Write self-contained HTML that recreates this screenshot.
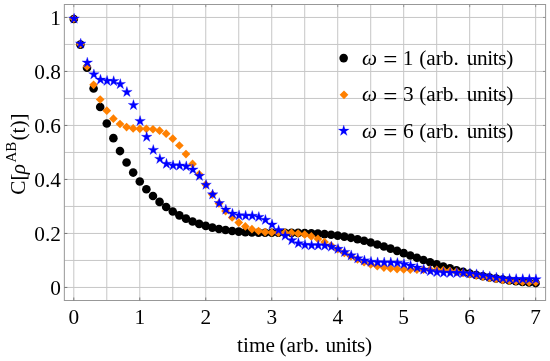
<!DOCTYPE html><html><head><meta charset="utf-8"><title>plot</title><style>html,body{margin:0;padding:0;background:#fff}svg{display:block}</style></head><body><svg width="550" height="361" viewBox="0 0 550 361">
<rect width="550" height="361" fill="#fff"/>
<path d="M73.80 4.5V300.5M106.79 4.5V300.5M139.78 4.5V300.5M172.77 4.5V300.5M205.76 4.5V300.5M238.75 4.5V300.5M271.74 4.5V300.5M304.73 4.5V300.5M337.72 4.5V300.5M370.71 4.5V300.5M403.70 4.5V300.5M436.69 4.5V300.5M469.68 4.5V300.5M502.67 4.5V300.5M535.66 4.5V300.5M64.35 287.45H545.6M64.35 260.45H545.6M64.35 233.45H545.6M64.35 206.45H545.6M64.35 179.45H545.6M64.35 152.45H545.6M64.35 125.45H545.6M64.35 98.45H545.6M64.35 71.45H545.6M64.35 44.45H545.6M64.35 17.45H545.6" stroke="#c6c6c6" stroke-width="1" fill="none"/>
<rect x="64.35" y="4.5" width="481.25" height="296.00" fill="none" stroke="#989898" stroke-width="1"/>
<path d="M73.80 300.5v-3M139.78 300.5v-3M205.76 300.5v-3M271.74 300.5v-3M337.72 300.5v-3M403.70 300.5v-3M469.68 300.5v-3M535.66 300.5v-3M64.35 287.45h3M64.35 233.45h3M64.35 179.45h3M64.35 125.45h3M64.35 71.45h3M64.35 17.45h3" stroke="#787878" stroke-width="1" fill="none"/>
<path d="M73.80 4.5v2.6M139.78 4.5v2.6M205.76 4.5v2.6M271.74 4.5v2.6M337.72 4.5v2.6M403.70 4.5v2.6M469.68 4.5v2.6M535.66 4.5v2.6M545.6 287.45h-2.6M545.6 233.45h-2.6M545.6 179.45h-2.6M545.6 125.45h-2.6M545.6 71.45h-2.6M545.6 17.45h-2.6" stroke="#959595" stroke-width="1" fill="none"/>
<g fill="#000"><circle cx="73.80" cy="18.95" r="4.3"/><circle cx="80.40" cy="44.62" r="4.3"/><circle cx="87.00" cy="67.75" r="4.3"/><circle cx="93.59" cy="88.48" r="4.3"/><circle cx="100.19" cy="107.00" r="4.3"/><circle cx="106.79" cy="123.49" r="4.3"/><circle cx="113.39" cy="138.13" r="4.3"/><circle cx="119.99" cy="151.08" r="4.3"/><circle cx="126.58" cy="162.51" r="4.3"/><circle cx="133.18" cy="172.58" r="4.3"/><circle cx="139.78" cy="181.43" r="4.3"/><circle cx="146.38" cy="189.18" r="4.3"/><circle cx="152.98" cy="195.97" r="4.3"/><circle cx="159.57" cy="201.89" r="4.3"/><circle cx="166.17" cy="207.03" r="4.3"/><circle cx="172.77" cy="211.50" r="4.3"/><circle cx="179.37" cy="215.35" r="4.3"/><circle cx="185.97" cy="218.66" r="4.3"/><circle cx="192.56" cy="221.49" r="4.3"/><circle cx="199.16" cy="223.89" r="4.3"/><circle cx="205.76" cy="225.91" r="4.3"/><circle cx="212.36" cy="227.59" r="4.3"/><circle cx="218.96" cy="228.96" r="4.3"/><circle cx="225.55" cy="230.07" r="4.3"/><circle cx="232.15" cy="230.94" r="4.3"/><circle cx="238.75" cy="231.60" r="4.3"/><circle cx="245.35" cy="232.09" r="4.3"/><circle cx="251.95" cy="232.42" r="4.3"/><circle cx="258.54" cy="232.64" r="4.3"/><circle cx="265.14" cy="232.76" r="4.3"/><circle cx="271.74" cy="232.81" r="4.3"/><circle cx="278.34" cy="232.82" r="4.3"/><circle cx="284.94" cy="232.82" r="4.3"/><circle cx="291.53" cy="232.84" r="4.3"/><circle cx="298.13" cy="232.90" r="4.3"/><circle cx="304.73" cy="233.04" r="4.3"/><circle cx="311.33" cy="233.27" r="4.3"/><circle cx="317.93" cy="233.62" r="4.3"/><circle cx="324.52" cy="234.11" r="4.3"/><circle cx="331.12" cy="234.77" r="4.3"/><circle cx="337.72" cy="235.60" r="4.3"/><circle cx="344.32" cy="236.62" r="4.3"/><circle cx="350.92" cy="237.83" r="4.3"/><circle cx="357.51" cy="239.23" r="4.3"/><circle cx="364.11" cy="240.80" r="4.3"/><circle cx="370.71" cy="242.56" r="4.3"/><circle cx="377.31" cy="244.46" r="4.3"/><circle cx="383.91" cy="246.50" r="4.3"/><circle cx="390.50" cy="248.64" r="4.3"/><circle cx="397.10" cy="250.87" r="4.3"/><circle cx="403.70" cy="253.15" r="4.3"/><circle cx="410.30" cy="255.46" r="4.3"/><circle cx="416.90" cy="257.76" r="4.3"/><circle cx="423.49" cy="260.03" r="4.3"/><circle cx="430.09" cy="262.25" r="4.3"/><circle cx="436.69" cy="264.39" r="4.3"/><circle cx="443.29" cy="266.44" r="4.3"/><circle cx="449.89" cy="268.38" r="4.3"/><circle cx="456.48" cy="270.21" r="4.3"/><circle cx="463.08" cy="271.91" r="4.3"/><circle cx="469.68" cy="273.49" r="4.3"/><circle cx="476.28" cy="274.94" r="4.3"/><circle cx="482.88" cy="276.27" r="4.3"/><circle cx="489.47" cy="277.48" r="4.3"/><circle cx="496.07" cy="278.57" r="4.3"/><circle cx="502.67" cy="279.55" r="4.3"/><circle cx="509.27" cy="280.43" r="4.3"/><circle cx="515.87" cy="281.21" r="4.3"/><circle cx="522.46" cy="281.91" r="4.3"/><circle cx="529.06" cy="282.53" r="4.3"/><circle cx="535.66" cy="283.08" r="4.3"/></g>
<g fill="#ff8000"><path d="M73.80 14.40l4.35 4.35l-4.35 4.35l-4.35 -4.35z"/><path d="M80.40 39.91l4.35 4.35l-4.35 4.35l-4.35 -4.35z"/><path d="M87.00 62.04l4.35 4.35l-4.35 4.35l-4.35 -4.35z"/><path d="M93.59 80.45l4.35 4.35l-4.35 4.35l-4.35 -4.35z"/><path d="M100.19 95.15l4.35 4.35l-4.35 4.35l-4.35 -4.35z"/><path d="M106.79 106.33l4.35 4.35l-4.35 4.35l-4.35 -4.35z"/><path d="M113.39 114.35l4.35 4.35l-4.35 4.35l-4.35 -4.35z"/><path d="M119.99 119.63l4.35 4.35l-4.35 4.35l-4.35 -4.35z"/><path d="M126.58 122.68l4.35 4.35l-4.35 4.35l-4.35 -4.35z"/><path d="M133.18 124.08l4.35 4.35l-4.35 4.35l-4.35 -4.35z"/><path d="M139.78 124.44l4.35 4.35l-4.35 4.35l-4.35 -4.35z"/><path d="M146.38 124.47l4.35 4.35l-4.35 4.35l-4.35 -4.35z"/><path d="M152.98 124.88l4.35 4.35l-4.35 4.35l-4.35 -4.35z"/><path d="M159.57 126.33l4.35 4.35l-4.35 4.35l-4.35 -4.35z"/><path d="M166.17 129.36l4.35 4.35l-4.35 4.35l-4.35 -4.35z"/><path d="M172.77 134.29l4.35 4.35l-4.35 4.35l-4.35 -4.35z"/><path d="M179.37 141.17l4.35 4.35l-4.35 4.35l-4.35 -4.35z"/><path d="M185.97 149.74l4.35 4.35l-4.35 4.35l-4.35 -4.35z"/><path d="M192.56 159.54l4.35 4.35l-4.35 4.35l-4.35 -4.35z"/><path d="M199.16 169.94l4.35 4.35l-4.35 4.35l-4.35 -4.35z"/><path d="M205.76 180.34l4.35 4.35l-4.35 4.35l-4.35 -4.35z"/><path d="M212.36 190.18l4.35 4.35l-4.35 4.35l-4.35 -4.35z"/><path d="M218.96 199.07l4.35 4.35l-4.35 4.35l-4.35 -4.35z"/><path d="M225.55 206.77l4.35 4.35l-4.35 4.35l-4.35 -4.35z"/><path d="M232.15 213.15l4.35 4.35l-4.35 4.35l-4.35 -4.35z"/><path d="M238.75 218.24l4.35 4.35l-4.35 4.35l-4.35 -4.35z"/><path d="M245.35 222.10l4.35 4.35l-4.35 4.35l-4.35 -4.35z"/><path d="M251.95 224.85l4.35 4.35l-4.35 4.35l-4.35 -4.35z"/><path d="M258.54 226.66l4.35 4.35l-4.35 4.35l-4.35 -4.35z"/><path d="M265.14 227.69l4.35 4.35l-4.35 4.35l-4.35 -4.35z"/><path d="M271.74 228.15l4.35 4.35l-4.35 4.35l-4.35 -4.35z"/><path d="M278.34 228.31l4.35 4.35l-4.35 4.35l-4.35 -4.35z"/><path d="M284.94 228.36l4.35 4.35l-4.35 4.35l-4.35 -4.35z"/><path d="M291.53 228.56l4.35 4.35l-4.35 4.35l-4.35 -4.35z"/><path d="M298.13 229.13l4.35 4.35l-4.35 4.35l-4.35 -4.35z"/><path d="M304.73 230.27l4.35 4.35l-4.35 4.35l-4.35 -4.35z"/><path d="M311.33 232.08l4.35 4.35l-4.35 4.35l-4.35 -4.35z"/><path d="M317.93 234.57l4.35 4.35l-4.35 4.35l-4.35 -4.35z"/><path d="M324.52 237.65l4.35 4.35l-4.35 4.35l-4.35 -4.35z"/><path d="M331.12 241.14l4.35 4.35l-4.35 4.35l-4.35 -4.35z"/><path d="M337.72 244.84l4.35 4.35l-4.35 4.35l-4.35 -4.35z"/><path d="M344.32 248.52l4.35 4.35l-4.35 4.35l-4.35 -4.35z"/><path d="M350.92 252.00l4.35 4.35l-4.35 4.35l-4.35 -4.35z"/><path d="M357.51 255.14l4.35 4.35l-4.35 4.35l-4.35 -4.35z"/><path d="M364.11 257.85l4.35 4.35l-4.35 4.35l-4.35 -4.35z"/><path d="M370.71 260.11l4.35 4.35l-4.35 4.35l-4.35 -4.35z"/><path d="M377.31 261.87l4.35 4.35l-4.35 4.35l-4.35 -4.35z"/><path d="M383.91 263.20l4.35 4.35l-4.35 4.35l-4.35 -4.35z"/><path d="M390.50 264.15l4.35 4.35l-4.35 4.35l-4.35 -4.35z"/><path d="M397.10 264.76l4.35 4.35l-4.35 4.35l-4.35 -4.35z"/><path d="M403.70 265.11l4.35 4.35l-4.35 4.35l-4.35 -4.35z"/><path d="M410.30 265.27l4.35 4.35l-4.35 4.35l-4.35 -4.35z"/><path d="M416.90 265.30l4.35 4.35l-4.35 4.35l-4.35 -4.35z"/><path d="M423.49 265.31l4.35 4.35l-4.35 4.35l-4.35 -4.35z"/><path d="M430.09 265.37l4.35 4.35l-4.35 4.35l-4.35 -4.35z"/><path d="M436.69 265.57l4.35 4.35l-4.35 4.35l-4.35 -4.35z"/><path d="M443.29 265.96l4.35 4.35l-4.35 4.35l-4.35 -4.35z"/><path d="M449.89 266.60l4.35 4.35l-4.35 4.35l-4.35 -4.35z"/><path d="M456.48 267.47l4.35 4.35l-4.35 4.35l-4.35 -4.35z"/><path d="M463.08 268.55l4.35 4.35l-4.35 4.35l-4.35 -4.35z"/><path d="M469.68 269.77l4.35 4.35l-4.35 4.35l-4.35 -4.35z"/><path d="M476.28 271.05l4.35 4.35l-4.35 4.35l-4.35 -4.35z"/><path d="M482.88 272.33l4.35 4.35l-4.35 4.35l-4.35 -4.35z"/><path d="M489.47 273.53l4.35 4.35l-4.35 4.35l-4.35 -4.35z"/><path d="M496.07 274.61l4.35 4.35l-4.35 4.35l-4.35 -4.35z"/><path d="M502.67 275.54l4.35 4.35l-4.35 4.35l-4.35 -4.35z"/><path d="M509.27 276.30l4.35 4.35l-4.35 4.35l-4.35 -4.35z"/><path d="M515.87 276.91l4.35 4.35l-4.35 4.35l-4.35 -4.35z"/><path d="M522.46 277.37l4.35 4.35l-4.35 4.35l-4.35 -4.35z"/><path d="M529.06 277.70l4.35 4.35l-4.35 4.35l-4.35 -4.35z"/><path d="M535.66 277.91l4.35 4.35l-4.35 4.35l-4.35 -4.35z"/></g>
<g fill="#0000ff" stroke="#0000ff" stroke-width="0.3" stroke-linejoin="miter"><polygon points="74.10,13.20 75.31,17.08 79.38,17.03 76.06,19.39 77.36,23.24 74.10,20.81 70.84,23.24 72.14,19.39 68.82,17.03 72.89,17.08"/><polygon points="80.70,38.17 81.91,42.05 85.98,42.01 82.66,44.36 83.96,48.21 80.70,45.79 77.44,48.21 78.73,44.36 75.42,42.01 79.48,42.05"/><polygon points="87.30,57.15 88.51,61.03 92.57,60.99 89.26,63.34 90.56,67.19 87.30,64.77 84.03,67.19 85.33,63.34 82.02,60.99 86.08,61.03"/><polygon points="93.89,68.92 95.11,72.80 99.17,72.76 95.86,75.11 97.16,78.96 93.89,76.54 90.63,78.96 91.93,75.11 88.62,72.76 92.68,72.80"/><polygon points="100.49,74.24 101.71,78.12 105.77,78.08 102.46,80.43 103.75,84.28 100.49,81.86 97.23,84.28 98.53,80.43 95.21,78.08 99.28,78.12"/><polygon points="107.09,75.38 108.30,79.26 112.37,79.22 109.05,81.57 110.35,85.42 107.09,83.00 103.83,85.42 105.13,81.57 101.81,79.22 105.88,79.26"/><polygon points="113.69,75.67 114.90,79.54 118.97,79.50 115.65,81.85 116.95,85.71 113.69,83.28 110.43,85.71 111.72,81.85 108.41,79.50 112.47,79.54"/><polygon points="120.29,78.60 121.50,82.48 125.56,82.44 122.25,84.79 123.55,88.64 120.29,86.22 117.02,88.64 118.32,84.79 115.01,82.44 119.07,82.48"/><polygon points="126.88,86.55 128.10,90.43 132.16,90.38 128.85,92.74 130.15,96.59 126.88,94.16 123.62,96.59 124.92,92.74 121.61,90.38 125.67,90.43"/><polygon points="133.48,99.59 134.70,103.47 138.76,103.42 135.45,105.78 136.74,109.63 133.48,107.20 130.22,109.63 131.52,105.78 128.20,103.42 132.27,103.47"/><polygon points="140.08,115.58 141.29,119.46 145.36,119.41 142.04,121.77 143.34,125.62 140.08,123.19 136.82,125.62 138.12,121.77 134.80,119.41 138.87,119.46"/><polygon points="146.68,131.42 147.89,135.30 151.96,135.25 148.64,137.60 149.94,141.46 146.68,139.03 143.42,141.46 144.71,137.60 141.40,135.25 145.46,135.30"/><polygon points="153.28,144.50 154.49,148.38 158.55,148.34 155.24,150.69 156.54,154.54 153.28,152.12 150.01,154.54 151.31,150.69 148.00,148.34 152.06,148.38"/><polygon points="159.87,153.50 161.09,157.38 165.15,157.34 161.84,159.69 163.14,163.54 159.87,161.12 156.61,163.54 157.91,159.69 154.60,157.34 158.66,157.38"/><polygon points="166.47,158.34 167.69,162.22 171.75,162.17 168.44,164.53 169.73,168.38 166.47,165.95 163.21,168.38 164.51,164.53 161.19,162.17 165.26,162.22"/><polygon points="173.07,159.97 174.28,163.85 178.35,163.80 175.03,166.15 176.33,170.01 173.07,167.58 169.81,170.01 171.11,166.15 167.79,163.80 171.86,163.85"/><polygon points="179.67,160.11 180.88,163.99 184.95,163.94 181.63,166.29 182.93,170.15 179.67,167.72 176.41,170.15 177.70,166.29 174.39,163.94 178.45,163.99"/><polygon points="186.27,160.87 187.48,164.75 191.54,164.70 188.23,167.06 189.53,170.91 186.27,168.48 183.00,170.91 184.30,167.06 180.99,164.70 185.05,164.75"/><polygon points="192.86,164.08 194.08,167.96 198.14,167.91 194.83,170.26 196.13,174.12 192.86,171.69 189.60,174.12 190.90,170.26 187.59,167.91 191.65,167.96"/><polygon points="199.46,170.47 200.68,174.35 204.74,174.30 201.43,176.65 202.72,180.51 199.46,178.08 196.20,180.51 197.50,176.65 194.18,174.30 198.25,174.35"/><polygon points="206.06,179.33 207.27,183.21 211.34,183.17 208.02,185.52 209.32,189.37 206.06,186.94 202.80,189.37 204.10,185.52 200.78,183.17 204.85,183.21"/><polygon points="212.66,188.98 213.87,192.86 217.94,192.82 214.62,195.17 215.92,199.02 212.66,196.60 209.40,199.02 210.69,195.17 207.38,192.82 211.44,192.86"/><polygon points="219.26,197.65 220.47,201.53 224.53,201.49 221.22,203.84 222.52,207.69 219.26,205.27 215.99,207.69 217.29,203.84 213.98,201.49 218.04,201.53"/><polygon points="225.85,204.17 227.07,208.05 231.13,208.01 227.82,210.36 229.12,214.21 225.85,211.79 222.59,214.21 223.89,210.36 220.58,208.01 224.64,208.05"/><polygon points="232.45,208.17 233.67,212.05 237.73,212.00 234.42,214.35 235.71,218.21 232.45,215.78 229.19,218.21 230.49,214.35 227.17,212.00 231.24,212.05"/><polygon points="239.05,209.92 240.26,213.80 244.33,213.76 241.01,216.11 242.31,219.96 239.05,217.54 235.79,219.96 237.09,216.11 233.77,213.76 237.84,213.80"/><polygon points="245.65,210.27 246.86,214.15 250.93,214.11 247.61,216.46 248.91,220.31 245.65,217.89 242.39,220.31 243.68,216.46 240.37,214.11 244.43,214.15"/><polygon points="252.25,210.39 253.46,214.27 257.52,214.23 254.21,216.58 255.51,220.43 252.25,218.01 248.98,220.43 250.28,216.58 246.97,214.23 251.03,214.27"/><polygon points="258.84,211.51 260.06,215.39 264.12,215.34 260.81,217.70 262.11,221.55 258.84,219.12 255.58,221.55 256.88,217.70 253.57,215.34 257.63,215.39"/><polygon points="265.44,214.40 266.66,218.28 270.72,218.24 267.41,220.59 268.70,224.44 265.44,222.02 262.18,224.44 263.48,220.59 260.16,218.24 264.23,218.28"/><polygon points="272.04,219.06 273.25,222.94 277.32,222.90 274.00,225.25 275.30,229.10 272.04,226.68 268.78,229.10 270.08,225.25 266.76,222.90 270.83,222.94"/><polygon points="278.64,224.70 279.85,228.58 283.92,228.54 280.60,230.89 281.90,234.74 278.64,232.32 275.38,234.74 276.67,230.89 273.36,228.54 277.42,228.58"/><polygon points="285.24,230.23 286.45,234.11 290.51,234.06 287.20,236.41 288.50,240.27 285.24,237.84 281.97,240.27 283.27,236.41 279.96,234.06 284.02,234.11"/><polygon points="291.83,234.75 293.05,238.63 297.11,238.58 293.80,240.93 295.10,244.79 291.83,242.36 288.57,244.79 289.87,240.93 286.56,238.58 290.62,238.63"/><polygon points="298.43,237.82 299.65,241.70 303.71,241.65 300.40,244.01 301.69,247.86 298.43,245.43 295.17,247.86 296.47,244.01 293.15,241.65 297.22,241.70"/><polygon points="305.03,239.44 306.24,243.32 310.31,243.28 306.99,245.63 308.29,249.48 305.03,247.06 301.77,249.48 303.07,245.63 299.75,243.28 303.82,243.32"/><polygon points="311.63,239.90 312.84,243.78 316.91,243.74 313.59,246.09 314.89,249.95 311.63,247.52 308.37,249.95 309.66,246.09 306.35,243.74 310.41,243.78"/><polygon points="318.23,239.89 319.44,243.77 323.50,243.72 320.19,246.07 321.49,249.93 318.23,247.50 314.96,249.93 316.26,246.07 312.95,243.72 317.01,243.77"/><polygon points="324.82,240.13 326.04,244.01 330.10,243.96 326.79,246.31 328.09,250.17 324.82,247.74 321.56,250.17 322.86,246.31 319.55,243.96 323.61,244.01"/><polygon points="331.42,241.25 332.64,245.13 336.70,245.09 333.39,247.44 334.68,251.29 331.42,248.87 328.16,251.29 329.46,247.44 326.14,245.09 330.21,245.13"/><polygon points="338.02,243.50 339.23,247.37 343.30,247.33 339.98,249.68 341.28,253.54 338.02,251.11 334.76,253.54 336.06,249.68 332.74,247.33 336.81,247.37"/><polygon points="344.62,246.58 345.83,250.46 349.90,250.41 346.58,252.77 347.88,256.62 344.62,254.19 341.36,256.62 342.65,252.77 339.34,250.41 343.40,250.46"/><polygon points="351.22,249.90 352.43,253.78 356.49,253.74 353.18,256.09 354.48,259.94 351.22,257.52 347.95,259.94 349.25,256.09 345.94,253.74 350.00,253.78"/><polygon points="357.81,252.85 359.03,256.73 363.09,256.69 359.78,259.04 361.08,262.89 357.81,260.46 354.55,262.89 355.85,259.04 352.54,256.69 356.60,256.73"/><polygon points="364.41,255.03 365.63,258.91 369.69,258.87 366.38,261.22 367.67,265.07 364.41,262.64 361.15,265.07 362.45,261.22 359.13,258.87 363.20,258.91"/><polygon points="371.01,256.32 372.22,260.20 376.29,260.16 372.97,262.51 374.27,266.36 371.01,263.94 367.75,266.36 369.05,262.51 365.73,260.16 369.80,260.20"/><polygon points="377.61,256.90 378.82,260.78 382.89,260.74 379.57,263.09 380.87,266.94 377.61,264.52 374.35,266.94 375.64,263.09 372.33,260.74 376.39,260.78"/><polygon points="384.21,257.01 385.42,260.89 389.48,260.84 386.17,263.20 387.47,267.05 384.21,264.62 380.94,267.05 382.24,263.20 378.93,260.84 382.99,260.89"/><polygon points="390.80,257.06 392.02,260.94 396.08,260.90 392.77,263.25 394.07,267.10 390.80,264.67 387.54,267.10 388.84,263.25 385.53,260.90 389.59,260.94"/><polygon points="397.40,257.48 398.62,261.36 402.68,261.32 399.37,263.67 400.66,267.52 397.40,265.10 394.14,267.52 395.44,263.67 392.12,261.32 396.19,261.36"/><polygon points="404.00,258.54 405.21,262.41 409.28,262.37 405.96,264.72 407.26,268.58 404.00,266.15 400.74,268.58 402.04,264.72 398.72,262.37 402.79,262.41"/><polygon points="410.60,260.20 411.81,264.08 415.88,264.03 412.56,266.39 413.86,270.24 410.60,267.81 407.34,270.24 408.63,266.39 405.32,264.03 409.38,264.08"/><polygon points="417.20,262.18 418.41,266.06 422.47,266.02 419.16,268.37 420.46,272.22 417.20,269.80 413.93,272.22 415.23,268.37 411.92,266.02 415.98,266.06"/><polygon points="423.79,264.11 425.01,267.99 429.07,267.95 425.76,270.30 427.06,274.15 423.79,271.73 420.53,274.15 421.83,270.30 418.52,267.95 422.58,267.99"/><polygon points="430.39,265.67 431.61,269.55 435.67,269.51 432.36,271.86 433.65,275.71 430.39,273.29 427.13,275.71 428.43,271.86 425.11,269.51 429.18,269.55"/><polygon points="436.99,266.72 438.20,270.60 442.27,270.55 438.95,272.91 440.25,276.76 436.99,274.33 433.73,276.76 435.03,272.91 431.71,270.55 435.78,270.60"/><polygon points="443.59,267.26 444.80,271.14 448.87,271.10 445.55,273.45 446.85,277.30 443.59,274.88 440.33,277.30 441.62,273.45 438.31,271.10 442.37,271.14"/><polygon points="450.19,267.43 451.40,271.31 455.46,271.27 452.15,273.62 453.45,277.47 450.19,275.05 446.92,277.47 448.22,273.62 444.91,271.27 448.97,271.31"/><polygon points="456.78,267.44 458.00,271.32 462.06,271.28 458.75,273.63 460.05,277.48 456.78,275.06 453.52,277.48 454.82,273.63 451.51,271.28 455.57,271.32"/><polygon points="463.38,267.56 464.60,271.44 468.66,271.40 465.35,273.75 466.64,277.60 463.38,275.18 460.12,277.60 461.42,273.75 458.10,271.40 462.17,271.44"/><polygon points="469.98,268.00 471.19,271.88 475.26,271.83 471.94,274.19 473.24,278.04 469.98,275.61 466.72,278.04 468.02,274.19 464.70,271.83 468.77,271.88"/><polygon points="476.58,268.83 477.79,272.71 481.86,272.66 478.54,275.02 479.84,278.87 476.58,276.44 473.32,278.87 474.61,275.02 471.30,272.66 475.36,272.71"/><polygon points="483.18,269.94 484.39,273.82 488.45,273.78 485.14,276.13 486.44,279.98 483.18,277.56 479.91,279.98 481.21,276.13 477.90,273.78 481.96,273.82"/><polygon points="489.77,271.13 490.99,275.01 495.05,274.96 491.74,277.31 493.04,281.17 489.77,278.74 486.51,281.17 487.81,277.31 484.50,274.96 488.56,275.01"/><polygon points="496.37,272.17 497.59,276.05 501.65,276.01 498.34,278.36 499.63,282.21 496.37,279.78 493.11,282.21 494.41,278.36 491.09,276.01 495.16,276.05"/><polygon points="502.97,272.94 504.18,276.82 508.25,276.77 504.93,279.13 506.23,282.98 502.97,280.55 499.71,282.98 501.01,279.13 497.69,276.77 501.76,276.82"/><polygon points="509.57,273.40 510.78,277.28 514.85,277.23 511.53,279.58 512.83,283.44 509.57,281.01 506.31,283.44 507.60,279.58 504.29,277.23 508.35,277.28"/><polygon points="516.17,273.59 517.38,277.47 521.44,277.42 518.13,279.78 519.43,283.63 516.17,281.20 512.90,283.63 514.20,279.78 510.89,277.42 514.95,277.47"/><polygon points="522.76,273.62 523.98,277.50 528.04,277.45 524.73,279.81 526.03,283.66 522.76,281.23 519.50,283.66 520.80,279.81 517.49,277.45 521.55,277.50"/><polygon points="529.36,273.64 530.58,277.52 534.64,277.48 531.33,279.83 532.62,283.68 529.36,281.26 526.10,283.68 527.40,279.83 524.08,277.48 528.15,277.52"/><polygon points="535.96,273.80 537.17,277.68 541.24,277.63 537.92,279.99 539.22,283.84 535.96,281.41 532.70,283.84 534.00,279.99 530.68,277.63 534.75,277.68"/></g>
<g fill="#000"><circle cx="343.65" cy="58.10" r="4.3"/></g>
<g fill="#ff8000"><path d="M344.00 90.45l4.35 4.35l-4.35 4.35l-4.35 -4.35z"/></g>
<g fill="#0000ff" stroke="#0000ff" stroke-width="0.2"><polygon points="343.75,125.05 345.01,129.07 349.22,129.02 345.78,131.46 347.13,135.45 343.75,132.94 340.37,135.45 341.72,131.46 338.28,129.02 342.49,129.07"/></g>
<g font-family="Liberation Serif, serif" font-size="21.3px" fill="#000">
<text y="64.6"><tspan x="362.00" font-style="italic">ω</tspan> <tspan x="383.20" dy="3.6" font-size="25px">=</tspan> <tspan x="402.80" dy="-3.6">1</tspan> <tspan x="419.20">(arb.</tspan> <tspan x="466.80" textLength="46.50" lengthAdjust="spacing">units)</tspan></text>
<text y="101.1"><tspan x="362.00" font-style="italic">ω</tspan> <tspan x="383.20" dy="3.6" font-size="25px">=</tspan> <tspan x="403.10" dy="-3.6">3</tspan> <tspan x="419.20">(arb.</tspan> <tspan x="466.80" textLength="46.50" lengthAdjust="spacing">units)</tspan></text>
<text y="137.7"><tspan x="362.00" font-style="italic">ω</tspan> <tspan x="383.20" dy="3.6" font-size="25px">=</tspan> <tspan x="402.90" dy="-3.6">6</tspan> <tspan x="419.20">(arb.</tspan> <tspan x="466.80" textLength="46.50" lengthAdjust="spacing">units)</tspan></text>
<text x="73.80" y="323.6" text-anchor="middle">0</text>
<text x="139.78" y="323.6" text-anchor="middle">1</text>
<text x="205.76" y="323.6" text-anchor="middle">2</text>
<text x="271.74" y="323.6" text-anchor="middle">3</text>
<text x="337.72" y="323.6" text-anchor="middle">4</text>
<text x="403.70" y="323.6" text-anchor="middle">5</text>
<text x="469.68" y="323.6" text-anchor="middle">6</text>
<text x="535.66" y="323.6" text-anchor="middle">7</text>
<text x="60.9" y="294.65" text-anchor="end">0</text>
<text x="60.9" y="240.65" text-anchor="end">0.2</text>
<text x="60.9" y="186.65" text-anchor="end">0.4</text>
<text x="60.9" y="132.65" text-anchor="end">0.6</text>
<text x="60.9" y="78.65" text-anchor="end">0.8</text>
<text x="60.9" y="24.65" text-anchor="end">1</text>
<text y="352.4"><tspan x="237.10">time</tspan> <tspan x="279.40">(arb.</tspan> <tspan x="325.60" textLength="46.50" lengthAdjust="spacing">units)</tspan></text>
<text transform="translate(24.9,0) rotate(-90)" y="0"><tspan x="-194.80">C[</tspan><tspan x="-174.30" font-style="italic">ρ</tspan><tspan x="-162.60" dy="-9.2" font-size="15px">AB</tspan><tspan x="-140.60" dy="9.2">(t)]</tspan></text>
</g>
</svg></body></html>
